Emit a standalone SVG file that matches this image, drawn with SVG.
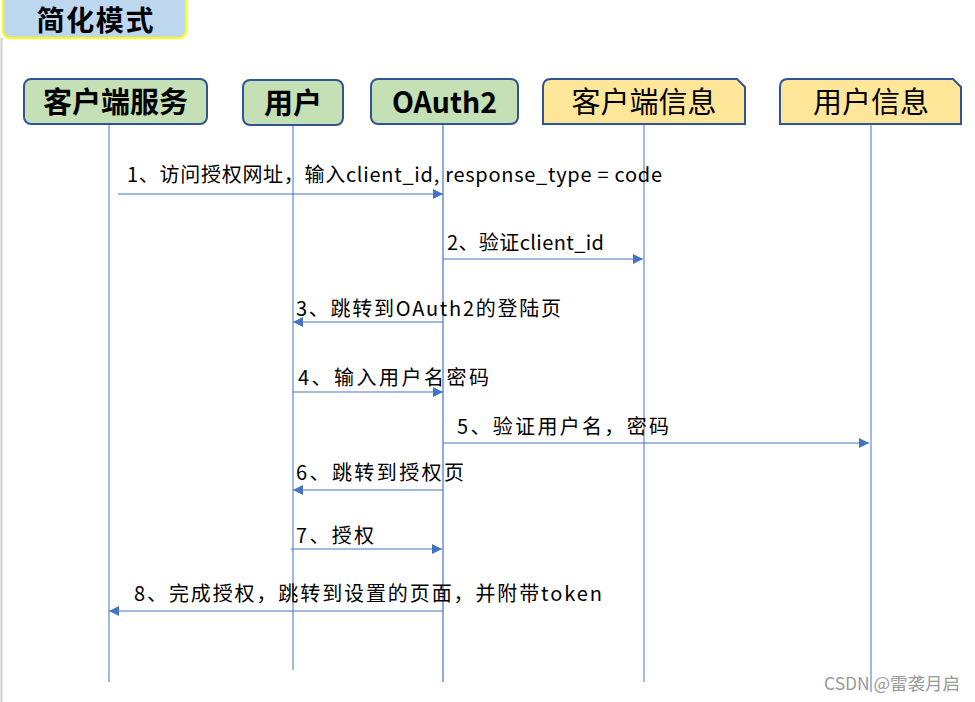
<svg xmlns="http://www.w3.org/2000/svg" width="975" height="702" viewBox="0 0 975 702">
<defs>
<marker id="ah" viewBox="0 0 10 10" refX="10" refY="5" markerWidth="10" markerHeight="10" markerUnits="userSpaceOnUse" orient="auto-start-reverse">
<path d="M0,0 L10,5 L0,10 z" fill="#4472C4"/>
</marker>
<style>
.t{font-family:"Noto Sans CJK SC","Liberation Sans",sans-serif;fill:#000}
.hb{font-size:29px;font-weight:bold;text-anchor:middle}
.hn{font-size:29px;text-anchor:middle}
.lbl{font-size:20px}
.green{fill:#C5E0B4;stroke:#2F5597;stroke-width:2}
.yel{fill:#FFE699;stroke:#2F5597;stroke-width:2}
.life{stroke:#4472C4;stroke-width:1}
.msg{stroke:#4472C4;stroke-width:1;fill:none}
</style>
</defs>
<rect width="975" height="702" fill="#fff"/>
<line x1="1.5" y1="38" x2="1.5" y2="702" stroke="#cfcfcf" stroke-width="2"/>
<g id="title">
<rect x="3" y="-8" width="183" height="46" rx="7" fill="#BDD7EE" stroke="#FFFF00" stroke-width="2"/>
<text class="t" x="95" y="31" font-size="28" font-weight="bold" text-anchor="middle" textLength="117" lengthAdjust="spacing">简化模式</text>
</g>
<g id="lifelines">
<line class="life" x1="109" y1="124" x2="109" y2="682"/>
<line class="life" x1="293" y1="125" x2="293" y2="670"/>
<line x1="443" y1="124" x2="443" y2="682" stroke="#8FAADC" stroke-width="2"/>
<line class="life" x1="644" y1="124" x2="644" y2="682"/>
<line class="life" x1="871" y1="124" x2="871" y2="692"/>
</g>
<g id="client-service">
<rect class="green" x="24" y="79" width="183" height="45" rx="7"/>
<text class="t hb" x="115.5" y="113">客户端服务</text>
</g>
<g id="user">
<rect class="green" x="243" y="80" width="100" height="45" rx="7"/>
<text class="t hb" x="293" y="114">用户</text>
</g>
<g id="oauth2">
<rect class="green" x="371" y="79" width="147" height="45" rx="7"/>
<text class="t hb" x="444.5" y="113" textLength="105" lengthAdjust="spacingAndGlyphs">OAuth2</text>
</g>
<g id="client-info">
<path class="yel" d="M551,79 H737 L745,87 V124 H543 V87 Q543,79 551,79 Z"/>
<text class="t hn" x="644" y="113">客户端信息</text>
</g>
<g id="user-info">
<path class="yel" d="M788,79 H953 L961,87 V124 H780 V87 Q780,79 788,79 Z"/>
<text class="t hn" x="871" y="113">用户信息</text>
</g>
<g id="connectors">
<line class="msg" x1="118" y1="194" x2="443" y2="194" marker-end="url(#ah)"/>
<line class="msg" x1="443" y1="259" x2="643" y2="259" marker-end="url(#ah)"/>
<line class="msg" x1="443" y1="322" x2="293" y2="322" marker-end="url(#ah)"/>
<line class="msg" x1="293" y1="392" x2="443" y2="392" marker-end="url(#ah)"/>
<line class="msg" x1="443" y1="443" x2="869" y2="443" marker-end="url(#ah)"/>
<line class="msg" x1="443" y1="490" x2="293" y2="490" marker-end="url(#ah)"/>
<line class="msg" x1="291" y1="549" x2="442" y2="549" marker-end="url(#ah)"/>
<line class="msg" x1="443" y1="611" x2="109" y2="611" marker-end="url(#ah)"/>
</g>
<g id="labels">
<text class="t lbl" x="127" y="182" textLength="535" lengthAdjust="spacing">1、访问授权网址，输入client_id, response_type = code</text>
<text class="t lbl" x="447" y="250" textLength="157" lengthAdjust="spacing">2、验证client_id</text>
<text class="t lbl" x="296" y="316" textLength="265" lengthAdjust="spacing">3、跳转到OAuth2的登陆页</text>
<text class="t lbl" x="298" y="385" textLength="191" lengthAdjust="spacing">4、输入用户名密码</text>
<text class="t lbl" x="457" y="434" textLength="212" lengthAdjust="spacing">5、验证用户名，密码</text>
<text class="t lbl" x="296" y="480" textLength="168" lengthAdjust="spacing">6、跳转到授权页</text>
<text class="t lbl" x="296" y="543" textLength="78" lengthAdjust="spacing">7、授权</text>
<text class="t lbl" x="134" y="601" textLength="468" lengthAdjust="spacing">8、完成授权，跳转到设置的页面，并附带token</text>
</g>
<text x="824" y="690" font-family="Noto Sans CJK SC, Liberation Sans, sans-serif" font-size="17.5" fill="#999" textLength="136" lengthAdjust="spacing">CSDN @雷袭月启</text>
</svg>
